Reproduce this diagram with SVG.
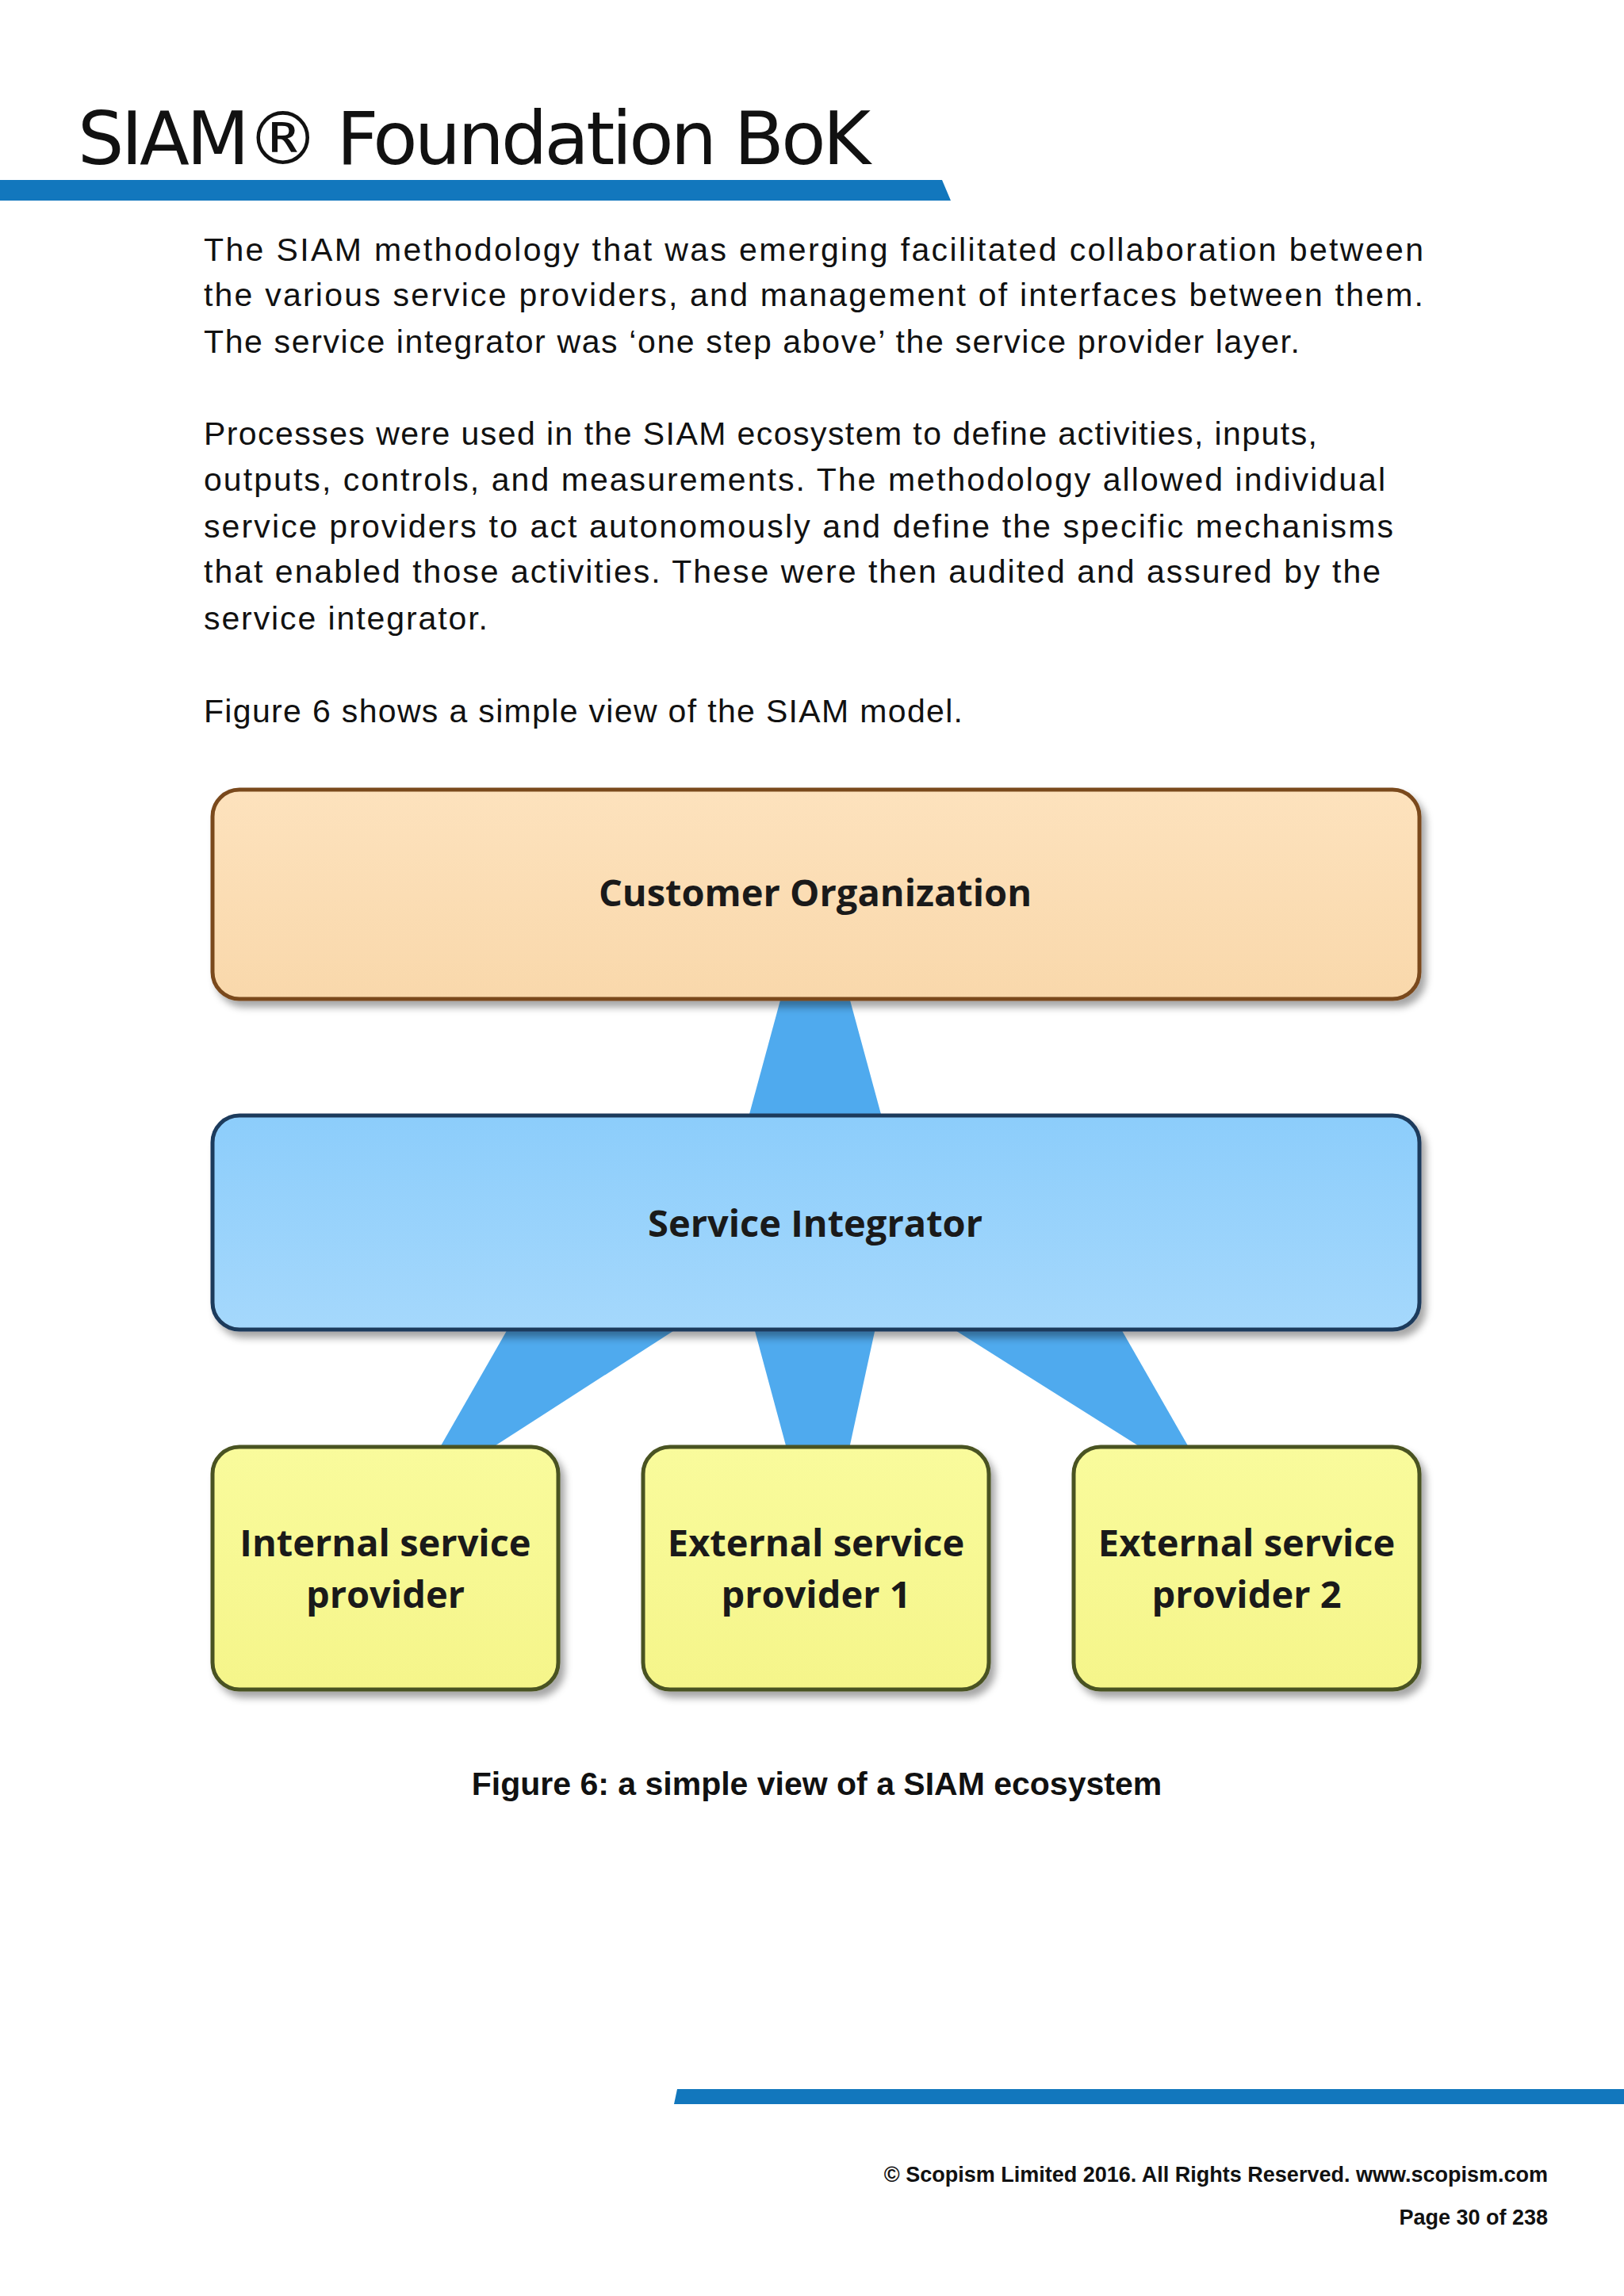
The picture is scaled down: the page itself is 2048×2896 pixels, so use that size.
<svg xmlns="http://www.w3.org/2000/svg" width="2048" height="2896" viewBox="0 0 2048 2896">
<style>
.body{font-family:"Liberation Sans",Arial,sans-serif;font-size:41px;fill:#111}
.lbl{font-family:"Open Sans","Liberation Sans",sans-serif;font-weight:bold;font-size:47px;fill:#1a1a1a;text-anchor:middle}
.foot{font-family:"Liberation Sans",Arial,sans-serif;font-weight:bold;font-size:27px;fill:#111;text-anchor:end}
.conn{fill:#4faaee}
</style>
<defs>
<linearGradient id="gc" x1="0" y1="0" x2="0" y2="1"><stop offset="0" stop-color="#fde2bd"/><stop offset="1" stop-color="#f9d8ab"/></linearGradient>
<linearGradient id="gs" x1="0" y1="0" x2="0" y2="1"><stop offset="0" stop-color="#8ccdfb"/><stop offset="1" stop-color="#a5d8fc"/></linearGradient>
<linearGradient id="gy" x1="0" y1="0" x2="0" y2="1"><stop offset="0" stop-color="#f9fb9c"/><stop offset="1" stop-color="#f5f58a"/></linearGradient>
<filter id="sh" x="-5%" y="-5%" width="115%" height="120%"><feDropShadow dx="6" dy="8" stdDeviation="5" flood-color="#000" flood-opacity="0.35"/></filter>
</defs>
<rect width="2048" height="2896" fill="#fff"/>
<text x="98" y="207" font-family="'DejaVu Sans',sans-serif" font-size="92" fill="#111" textLength="1000">SIAM® Foundation BoK</text>
<polygon points="0,227 1188,227 1199,253 0,253" fill="#1277bd"/>
<g class="body">
<text x="257" y="329" textLength="1538">The SIAM methodology that was emerging facilitated collaboration between</text>
<text x="257" y="386" textLength="1538">the various service providers, and management of interfaces between them.</text>
<text x="257" y="445" textLength="1382">The service integrator was ‘one step above’ the service provider layer.</text>
<text x="257" y="561" textLength="1404">Processes were used in the SIAM ecosystem to define activities, inputs,</text>
<text x="257" y="619" textLength="1490">outputs, controls, and measurements. The methodology allowed individual</text>
<text x="257" y="678" textLength="1500">service providers to act autonomously and define the specific mechanisms</text>
<text x="257" y="735" textLength="1484">that enabled those activities. These were then audited and assured by the</text>
<text x="257" y="794" textLength="358">service integrator.</text>
<text x="257" y="911" textLength="957">Figure 6 shows a simple view of the SIAM model.</text>
</g>
<g id="connectors">
<polygon class="conn" points="985,1258 1071,1258 1112,1409 944,1409"/>
<polygon class="conn" points="641,1675 855,1675 619,1827 554,1827"/>
<polygon class="conn" points="951,1675 1104,1675 1071,1827 992,1827"/>
<polygon class="conn" points="1200,1675 1413,1675 1500,1827 1441,1827"/>
</g>
<g id="customer">
<rect x="268" y="996" width="1522" height="264" rx="34" fill="url(#gc)" stroke="#7a4a1e" stroke-width="5" filter="url(#sh)"/>
<text class="lbl" x="1028" y="1143">Customer Organization</text>
</g>
<g id="integrator">
<rect x="268" y="1407" width="1522" height="270" rx="34" fill="url(#gs)" stroke="#1f3a5c" stroke-width="5" filter="url(#sh)"/>
<text class="lbl" x="1028" y="1560">Service Integrator</text>
</g>
<g id="internal">
<rect x="268" y="1825" width="436" height="306" rx="34" fill="url(#gy)" stroke="#4a5220" stroke-width="5" filter="url(#sh)"/>
<text class="lbl" x="486" y="1963">Internal service</text>
<text class="lbl" x="486" y="2028">provider</text>
</g>
<g id="external1">
<rect x="811" y="1825" width="436" height="306" rx="34" fill="url(#gy)" stroke="#4a5220" stroke-width="5" filter="url(#sh)"/>
<text class="lbl" x="1029" y="1963">External service</text>
<text class="lbl" x="1029" y="2028">provider 1</text>
</g>
<g id="external2">
<rect x="1354" y="1825" width="436" height="306" rx="34" fill="url(#gy)" stroke="#4a5220" stroke-width="5" filter="url(#sh)"/>
<text class="lbl" x="1572" y="1963">External service</text>
<text class="lbl" x="1572" y="2028">provider 2</text>
</g>
<text x="1030" y="2264" font-family="'Liberation Sans',Arial,sans-serif" font-weight="bold" font-size="41" fill="#111" text-anchor="middle">Figure 6: a simple view of a SIAM ecosystem</text>
<polygon points="854,2635 2048,2635 2048,2654 850,2654" fill="#1277bd"/>
<text class="foot" x="1952" y="2752">© Scopism Limited 2016. All Rights Reserved. www.scopism.com</text>
<text class="foot" x="1952" y="2806">Page 30 of 238</text>
</svg>
